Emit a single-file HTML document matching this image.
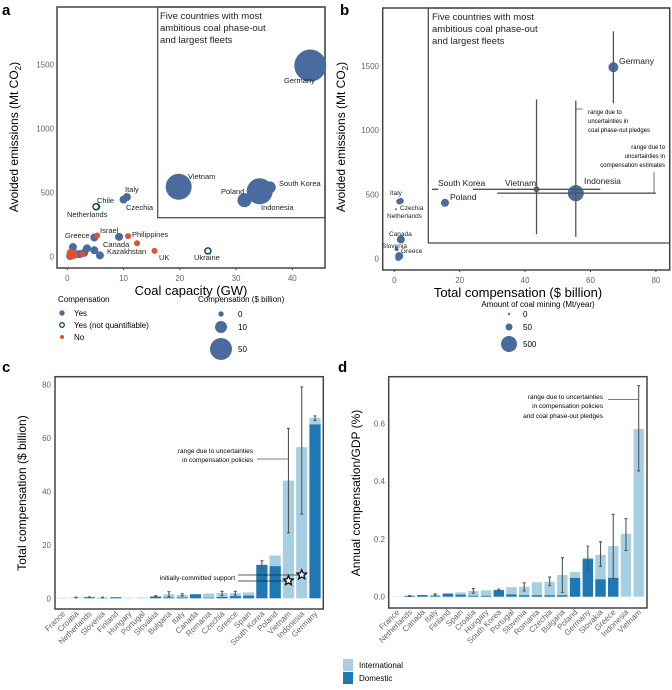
<!DOCTYPE html>
<html><head><meta charset="utf-8"><style>
body{margin:0;background:#fff;font-family:"Liberation Sans",Arial,sans-serif}
svg text{font-family:"Liberation Sans",Arial,sans-serif}
</style></head><body>
<svg id="fig" width="672" height="685" viewBox="0 0 672 685" xmlns="http://www.w3.org/2000/svg"></svg>
<script>
// ---- Panel a data ----
const aNames=["Germany","Vietnam","South Korea","Poland","Indonesia","Italy","Czechia","Chile","Netherlands","Greece","Israel","Slovakia-ish","Philippines","Canada","Kazakhstan","UK","Ukraine","c1","c2","c3","c4","c5","c6","c7","c8","r1","r2","r3","r4","r5"];
const aCap=[43.2,19.8,36,31.5,34.2,10.6,10,5.2,5.1,4.8,5.3,9.2,10.8,12.4,15.5,15.6,25,1,1.5,3.5,3,4.8,5.8,0.5,2.2,0.6,0.9,1.2,2.7,0.4];
const aEm=[1490,545,540,440,510,465,445,390,390,150,165,155,160,105,45,45,45,75,20,65,30,50,10,5,20,30,10,15,20,5];
const aType=["y","y","y","y","y","y","y","o","o","y","n","y","n","n","n","n","o","y","y","y","y","y","y","y","y","n","n","n","n","n"];
const aR=[16,13,6,7,13,4,4,3,3,4,3,4,3,3,3,0,3,4,4,4,4,4,4,4,4,4,4,4,3,3];
const aXTicks=[0,10,20,30,40];
const aYTicks=[0,500,1000,1500];
// ---- Panel b data ----
const bNames=["Germany","Indonesia","Vietnam","South Korea","Poland","Italy","Czechia","Netherlands","Canada","Slovenia","Greece","g2"];
const bComp=[67,55.5,43.5,12.5,15.5,2,1.5,0.5,2,0.7,1.5,1.2];
const bEm=[1490,510,540,540,435,450,445,385,150,75,20,5];
const bR=[5,8,3,1,4,3,3,1,4,2,4,3];
const bErrY=[[1210,1770],[170,1230],[190,1240],null,null,null,null,null,null,null,null,null];
const bErrX=[null,[31.5,80],[24,63],[11.5,13.5],null,null,null,null,null,null,null,null];
const bXTicks=[0,20,40,60,80];
const bYTicks=[0,500,1000,1500];
// ---- Panel c data ----
const cCats=["France","Croatia","Netherlands","Slovenia","Finland","Hungary","Portugal","Slovakia","Bulgaria","Italy","Canada","Romania","Czechia","Greece","Spain","South Korea","Poland","Vietnam","Indonesia","Germany"];
const cTotal=[0.2,0.3,0.4,0.3,0.4,0.2,0.3,0.8,1.5,1.3,1.5,1.8,2,1.9,2.2,12.5,16,44,56.5,67.5];
const cDom=[0,0,0.4,0.1,0.4,0,0,0.6,0.3,0.3,1.5,0.2,0.5,0.8,1,12.5,12,0,0,65];
const cErrLo=[null,0.2,0.3,0.2,null,null,null,0.6,0.5,0.9,null,null,1,1.2,null,11,null,24.5,31.5,66.5];
const cErrHi=[null,0.4,0.5,0.4,null,null,null,1,2.5,1.7,null,null,2.6,2.6,null,14,null,63.5,79,68.2];
const cYTicks=[0,20,40,60,80];
const cStars=[[17,6.6],[18,8.8]];
// ---- Panel d data ----
const dCats=["France","Netherlands","Canada","Italy","Finland","Spain","Croatia","Hungary","South Korea","Portugal","Slovenia","Romania","Czechia","Bulgaria","Poland","Germany","Slovakia","Greece","Indonesia","Vietnam"];
const dTotal=[0.001,0.003,0.006,0.007,0.011,0.015,0.02,0.022,0.023,0.033,0.035,0.05,0.052,0.075,0.085,0.135,0.145,0.175,0.218,0.58];
const dDom=[0,0.003,0.006,0.002,0.011,0.007,0.003,0.003,0.023,0.008,0.005,0.005,0.005,0.005,0.065,0.13,0.06,0.065,0,0];
const dErrLo=[null,0.001,null,0.004,null,null,0.012,null,0.02,null,0.02,null,0.038,0.015,null,0.09,0.105,0.063,0.16,0.435];
const dErrHi=[null,0.004,null,0.01,null,null,0.028,null,0.026,null,0.048,null,0.068,0.135,null,0.175,0.19,0.285,0.27,0.73];
const dYTicks=[0,0.2,0.4,0.6];

const S=document.getElementById('fig');
const NS="http://www.w3.org/2000/svg";
function el(tag,at,txt){const e=document.createElementNS(NS,tag);for(const k in at)e.setAttribute(k,at[k]);if(txt!==undefined)e.textContent=txt;S.appendChild(e);return e;}
const BLUE="#4a6b9d",RED="#e4502d",DARK="#0d4a6b",LIGHT="#a6cfe4",DB="#1f78b4",AX="#444",GR="#555";

// Panel labels
[["a",2,15],["b",340,15],["c",2,372],["d",338,372]].forEach(p=>{const t=el('text',{x:p[1],y:p[2],'font-size':15,'font-weight':'bold'},p[0]);

});

// ---- Panel a ----
const ax=v=>67.3+v*5.625, ay=v=>256.7-v*0.1283;
let r=el('rect',{x:57,y:7,width:268,height:261,fill:'none',stroke:AX,'stroke-width':1.5});

r=el('rect',{x:157.7,y:7,width:167.3,height:210.7,fill:'none',stroke:AX,'stroke-width':1.2});

el('text',{x:160,y:19,'font-size':9.5,fill:'#222'},"Five countries with most");
el('text',{x:160,y:31,'font-size':9.5,fill:'#222'},"ambitious coal phase-out");
el('text',{x:160,y:43,'font-size':9.5,fill:'#222'},"and largest fleets");
aXTicks.forEach(v=>{const t=el('text',{x:ax(v),y:281,'font-size':8,fill:'#666','text-anchor':'middle'},v);

el('line',{x1:ax(v),x2:ax(v),y1:268,y2:270,stroke:AX});});
aYTicks.forEach(v=>{const t=el('text',{x:54,y:ay(v)+3,'font-size':8,fill:'#666','text-anchor':'end'},v);
});
let t=el('text',{x:191,y:295,'font-size':13,'text-anchor':'middle'},"Coal capacity (GW)");

t=el('text',{transform:'translate(18,137) rotate(-90)','font-size':12,'text-anchor':'middle'});
t.innerHTML='Avoided emissions (Mt CO<tspan font-size="8" dy="3">2</tspan><tspan dy="-3">)</tspan>';

aCap.forEach((c,i)=>{if(aR[i]===0)return;
const o=aType[i]==='o';
const p=el('circle',{cx:ax(c),cy:ay(aEm[i]),r:aR[i],fill:o?'#fff':(aType[i]==='n'?RED:BLUE),stroke:o?DARK:'none','stroke-width':o?1.5:0});

});
[["Germany",284,83],["Vietnam",188,179],["Poland",221,194],["South Korea",279,186],["Indonesia",261,210],["Italy",125,192],["Chile",97,203],["Czechia",126,210],["Netherlands",67,217],["Israel",100,233],["Greece",65,238],["Philippines",132,237],["Canada",103,247],["Kazakhstan",107,254],["UK",159,260],["Ukraine",194,260]].forEach(l=>{
const q=el('text',{x:l[1],y:l[2],'font-size':7.5,fill:'#222'},l[0]);
});
// legend a
el('text',{x:58,y:302,'font-size':8},"Compensation");
el('circle',{cx:62,cy:313,r:2.7,fill:BLUE});el('text',{x:74,y:316,'font-size':8},"Yes");
el('circle',{cx:62,cy:325,r:2.3,fill:'#fff',stroke:DARK,'stroke-width':1.3});el('text',{x:74,y:328,'font-size':8},"Yes (not quantifiable)");
el('circle',{cx:62,cy:337,r:2,fill:RED});el('text',{x:74,y:340,'font-size':8},"No");
el('text',{x:198,y:302,'font-size':8},"Compensation ($ billion)");
el('circle',{cx:221,cy:314,r:2.7,fill:BLUE});el('text',{x:238,y:317,'font-size':8},"0");
el('circle',{cx:221,cy:327,r:6,fill:BLUE});el('text',{x:238,y:330,'font-size':8},"10");
el('circle',{cx:221,cy:349,r:11,fill:BLUE});el('text',{x:238,y:352,'font-size':8},"50");

// ---- Panel b ----
const bx=v=>394.3+v*3.27, by=v=>258.7-v*0.1285;
r=el('rect',{x:382.7,y:8,width:287,height:262,fill:'none',stroke:AX,'stroke-width':1.5});

r=el('rect',{x:428.3,y:8,width:241.4,height:235,fill:'none',stroke:AX,'stroke-width':1.2});

el('text',{x:432,y:20,'font-size':9.5,fill:'#222'},"Five countries with most");
el('text',{x:432,y:32,'font-size':9.5,fill:'#222'},"ambitious coal phase-out");
el('text',{x:432,y:44,'font-size':9.5,fill:'#222'},"and largest fleets");
bXTicks.forEach(v=>{const q=el('text',{x:bx(v),y:283,'font-size':8,fill:'#666','text-anchor':'middle'},v);

el('line',{x1:bx(v),x2:bx(v),y1:270,y2:272,stroke:AX});});
bYTicks.forEach(v=>{const q=el('text',{x:379,y:by(v)+3,'font-size':8,fill:'#666','text-anchor':'end'},v);
});
t=el('text',{x:518,y:297,'font-size':13,'text-anchor':'middle'},"Total compensation ($ billion)");

t=el('text',{transform:'translate(345,137) rotate(-90)','font-size':12,'text-anchor':'middle'});
t.innerHTML='Avoided emissions (Mt CO<tspan font-size="8" dy="3">2</tspan><tspan dy="-3">)</tspan>';

bComp.forEach((c,i)=>{
const p=el('circle',{cx:bx(c),cy:by(bEm[i]),r:bR[i],fill:BLUE});


if(bErrY[i]){const e=el('line',{x1:bx(c),x2:bx(c),y1:by(bErrY[i][0]),y2:by(bErrY[i][1]),stroke:GR,'stroke-width':1.3});
}
if(bErrX[i]){const e=el('line',{x1:bx(bErrX[i][0]),x2:bx(bErrX[i][1]),y1:by(bEm[i]),y2:by(bEm[i]),stroke:GR,'stroke-width':1.3});
}});
[["Germany",619,64,8.5],["Indonesia",584,184,8.5],["Vietnam",505,186,8.5],["South Korea",438,186,8.5],["Poland",450,200,8.5],["Italy",390,195,6.5],["Czechia",400,210,6.5],["Netherlands",387,218,6.5],["Canada",389,236,6.5],["Slovenia",382,248,6.5],["Greece",401,253,6.5]].forEach(l=>{
const q=el('text',{x:l[1],y:l[2],'font-size':l[3],fill:'#222'},l[0]);
});
el('polyline',{points:`${bx(55.5)},109 ${bx(57.5)},109`,fill:'none',stroke:GR,'stroke-width':0.8});
el('text',{x:588,y:114,'font-size':6},"range due to");
el('text',{x:588,y:123,'font-size':6},"uncertainties in");
el('text',{x:588,y:132,'font-size':6},"coal phase-out pledges");
el('text',{x:665,y:149,'font-size':6,'text-anchor':'end'},"range due to");
el('text',{x:665,y:158,'font-size':6,'text-anchor':'end'},"uncertainties in");
el('text',{x:665,y:167,'font-size':6,'text-anchor':'end'},"compensation estimates");
el('line',{x1:654,x2:654,y1:172,y2:193,stroke:GR,'stroke-width':0.8});
el('text',{x:538,y:307,'font-size':8,'text-anchor':'middle'},"Amount of coal mining (Mt/year)");
el('circle',{cx:509,cy:314,r:1.2,fill:BLUE});el('text',{x:523,y:317,'font-size':8},"0");
el('circle',{cx:509,cy:327,r:3.5,fill:BLUE});el('text',{x:523,y:330,'font-size':8},"50");
el('circle',{cx:509,cy:344,r:8,fill:BLUE});el('text',{x:523,y:347,'font-size':8},"500");

// ---- bar helper ----
function bars(cats,total,dom,lo,hi,x0,step,w,y0,k,pref){
 cats.forEach((c,i)=>{const cx=x0+i*step;
  let b=el('rect',{x:cx-w/2,y:y0-total[i]*k,width:w,height:total[i]*k,fill:LIGHT});
  
  
  if(dom[i]>0){b=el('rect',{x:cx-w/2,y:y0-dom[i]*k,width:w,height:dom[i]*k,fill:DB});
  
  }
  if(lo[i]!==null){const y1=y0-lo[i]*k,y2=y0-hi[i]*k;
   const e=el('path',{d:`M${cx},${y1}V${y2}M${cx-1.5},${y1}H${cx+1.5}M${cx-1.5},${y2}H${cx+1.5}`,stroke:GR,'stroke-width':1.1,fill:'none'});
   }
  const tl=el('text',{transform:`translate(${cx+3},${y0+16}) rotate(-45)`,'font-size':8,fill:'#666','text-anchor':'end'},c);
  
 });
}
// ---- Panel c ----
const cy0=598.3,ck=2.675,cx0=62.7,cst=13.28;
cYTicks.forEach(v=>{const q=el('text',{x:51,y:cy0-v*ck+3,'font-size':8,fill:'#666','text-anchor':'end'},v);
});
bars(cCats,cTotal,cDom,cErrLo,cErrHi,cx0,cst,11.2,cy0,ck,'c');
r=el('rect',{x:55,y:376.7,width:268.3,height:232.3,fill:'none',stroke:AX,'stroke-width':1.5});

t=el('text',{transform:'translate(26,493) rotate(-90)','font-size':12,'text-anchor':'middle'},"Total compensation ($ billion)");

el('text',{x:253,y:453,'font-size':6.5,'text-anchor':'end'},"range due to uncertainties");
el('text',{x:253,y:462,'font-size':6.5,'text-anchor':'end'},"in compensation policies");
el('line',{x1:257,x2:cx0+17*cst,y1:459,y2:459,stroke:GR,'stroke-width':0.8});
el('text',{x:235,y:580,'font-size':6.5,'text-anchor':'end'},"initially-committed support");
el('line',{x1:238,x2:cx0+18*cst,y1:575,y2:575,stroke:'#222','stroke-width':0.8});
el('line',{x1:238,x2:cx0+17*cst,y1:581,y2:581,stroke:'#222','stroke-width':0.8});
function star(cx,cy,R){let p='';for(let j=0;j<10;j++){const a=-Math.PI/2+j*Math.PI/5,rr=j%2?R*0.45:R;p+=(cx+rr*Math.cos(a)).toFixed(1)+','+(cy+rr*Math.sin(a)).toFixed(1)+' ';}return p;}
cStars.forEach(s=>{const st=el('polygon',{points:star(cx0+s[0]*cst,cy0-s[1]*ck,5),fill:'#fff',stroke:'#111','stroke-width':1.3});
});

// ---- Panel d ----
const dy0=596.7,dk=289,dx0=397,dst=12.72;
dYTicks.forEach(v=>{const q=el('text',{x:385,y:dy0-v*dk+3,'font-size':8,fill:'#666','text-anchor':'end'},v.toFixed(1));
});
bars(dCats,dTotal,dDom,dErrLo,dErrHi,dx0,dst,10.4,dy0,dk,'d');
r=el('rect',{x:388.7,y:376.7,width:258.3,height:231.3,fill:'none',stroke:AX,'stroke-width':1.5});

t=el('text',{transform:'translate(360,493) rotate(-90)','font-size':12,'text-anchor':'middle'},"Annual compensation/GDP (%)");

el('text',{x:603,y:399,'font-size':6.5,'text-anchor':'end'},"range due to uncertainties");
el('text',{x:603,y:408,'font-size':6.5,'text-anchor':'end'},"in compensation policies");
el('text',{x:603,y:418,'font-size':6.5,'text-anchor':'end'},"and coal phase-out pledges");
el('line',{x1:608,x2:dx0+19*dst,y1:399.5,y2:399.5,stroke:GR,'stroke-width':0.8});
// legend
let lg=el('rect',{x:343,y:659,width:10,height:12,fill:LIGHT});
el('text',{x:359,y:668,'font-size':8},"International");
lg=el('rect',{x:343,y:672,width:10,height:12,fill:DB});
el('text',{x:359,y:681,'font-size':8},"Domestic");
</script>
</body></html>
